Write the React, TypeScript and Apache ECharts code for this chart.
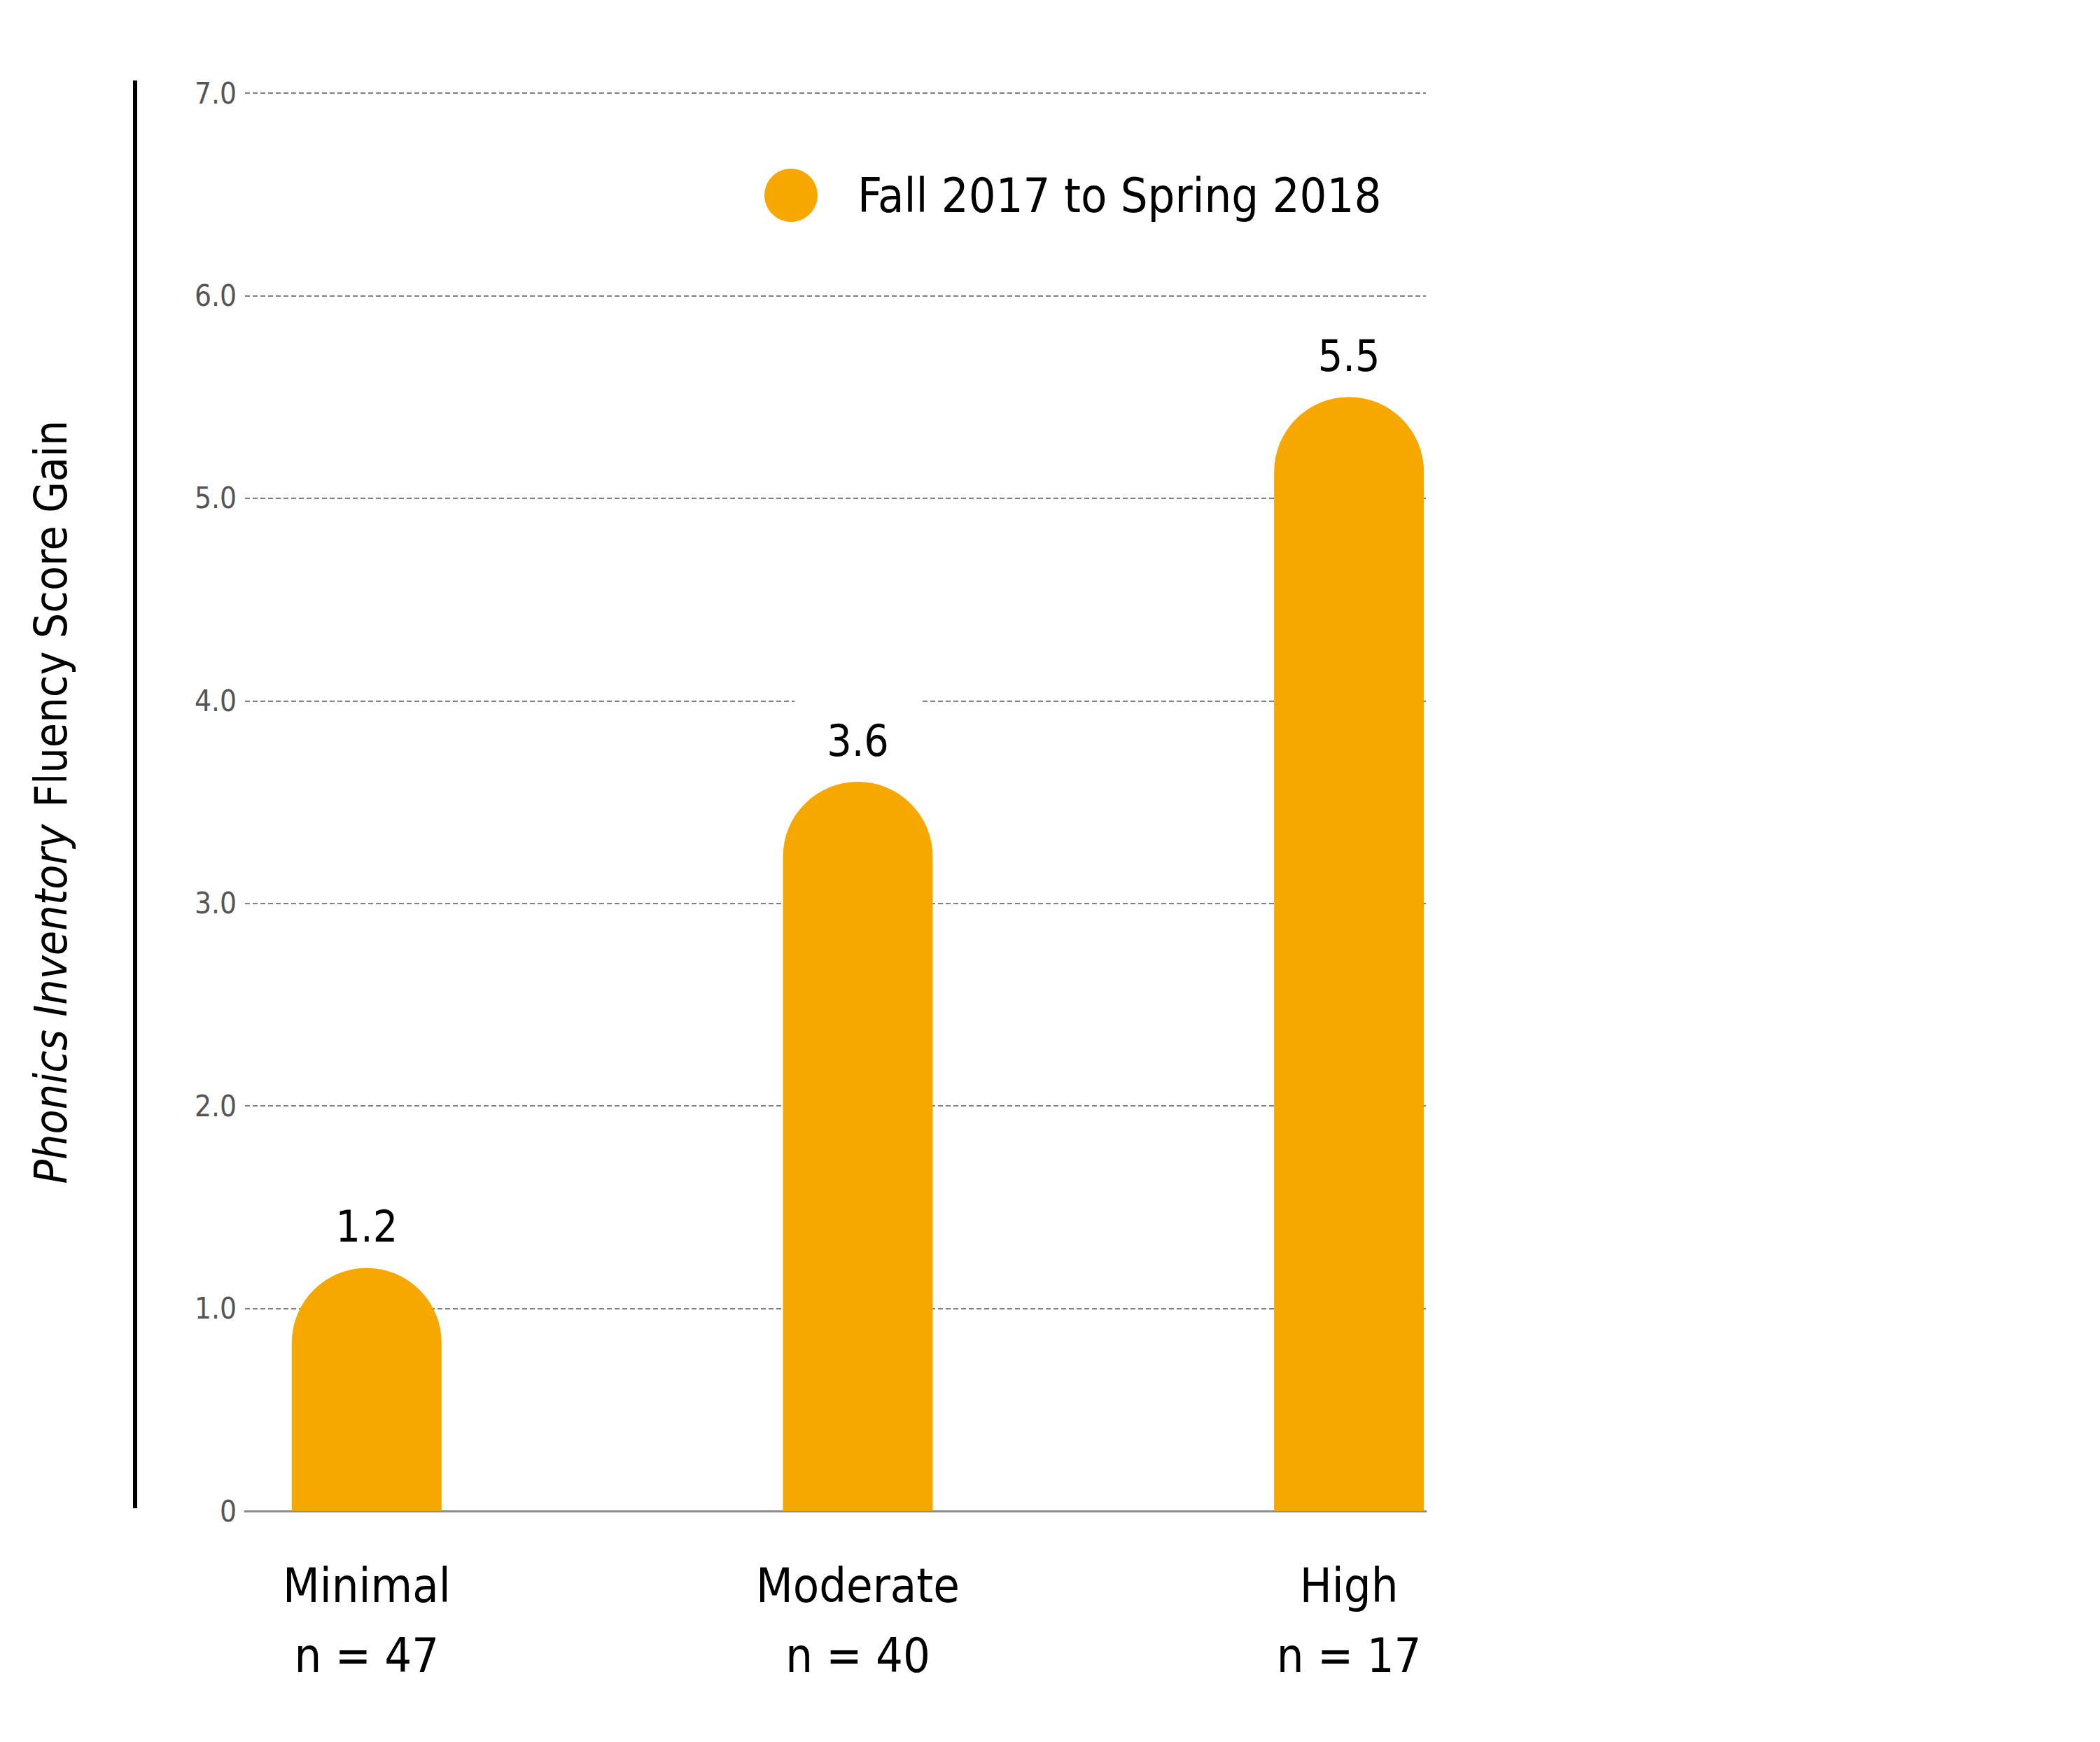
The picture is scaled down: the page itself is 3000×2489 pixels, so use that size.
import React, { useEffect, useRef } from "react";
import * as echarts from "echarts";

const categories = ["Minimal", "Moderate", "High"];
const sampleSizes = ["n = 47", "n = 40", "n = 17"];
const seriesName = "Fall 2017 to Spring 2018";
const values = [1.2, 3.6, 5.5];
const yTicks = [0, 1, 2, 3, 4, 5, 6, 7];

const FONT = "'DejaVu Sans Condensed', 'Liberation Sans Narrow', sans-serif";
const ORANGE = "#F6A800";

export default function App() {
  const ref = useRef<HTMLDivElement>(null);
  useEffect(() => {
    document.body.style.margin = "0";
    const chart = echarts.init(ref.current!, null, { renderer: "svg" });
    const top = 133;
    const height = 2026;
    chart.setOption({
      animation: false,
      backgroundColor: "#ffffff",
      textStyle: { fontFamily: FONT },
      legend: {
        data: [seriesName],
        left: 1087,
        top: 236,
        icon: "circle",
        itemWidth: 76,
        itemHeight: 76,
        textStyle: {
          fontFamily: FONT,
          fontSize: 68,
          color: "#000",
          padding: [0, 0, 0, 52],
        },
      },
      grid: [
        { left: 350, width: 1687, top, height },
        { left: 173, width: 2105, top, height },
      ],
      xAxis: [
        {
          type: "category",
          gridIndex: 0,
          data: categories,
          axisLine: { show: true, lineStyle: { color: "#8c8c8c", width: 3 } },
          axisTick: { show: false },
          axisLabel: { show: false },
          splitLine: { show: false },
        },
        {
          type: "category",
          gridIndex: 1,
          data: categories,
          axisLine: { show: false },
          axisTick: { show: false },
          splitLine: { show: false },
          axisLabel: {
            margin: 56,
            fontFamily: FONT,
            fontSize: 68,
            lineHeight: 100,
            color: "#000",
            formatter: (v: string) => {
              const i = categories.indexOf(v);
              return v + "\n" + sampleSizes[i];
            },
          },
        },
      ],
      yAxis: [
        {
          type: "value",
          gridIndex: 0,
          min: 0,
          max: 7,
          interval: 1,
          name: "{it|Phonics Inventory}{rg|Fluency Score Gain}",
          nameLocation: "middle",
          nameRotate: 90,
          nameGap: 245,
          nameTextStyle: {
            rich: {
              it: {
                fontFamily: FONT,
                fontSize: 64,
                fontStyle: "italic",
                color: "#000",
                padding: [0, 24, 0, 0],
              },
              rg: { fontFamily: FONT, fontSize: 64, color: "#000" },
            },
          },
          axisLine: { show: false },
          axisTick: { show: false },
          axisLabel: {
            margin: 12,
            fontFamily: FONT,
            fontSize: 42,
            color: "#555",
            formatter: (v: number) => (yTicks.includes(v) && v !== 0 ? v.toFixed(1) : String(v)),
          },
          splitLine: {
            show: true,
            lineStyle: { color: "#808080", width: 2, type: [7, 4] },
          },
        },
        {
          type: "value",
          gridIndex: 1,
          min: 0,
          max: 7,
          interval: 1,
          show: false,
          splitLine: { show: false },
        },
      ],
      series: [
        {
          name: seriesName,
          type: "bar",
          xAxisIndex: 1,
          yAxisIndex: 1,
          data: values,
          barWidth: 214,
          itemStyle: { color: ORANGE, borderRadius: [107, 107, 0, 0] },
          label: {
            show: true,
            position: "top",
            distance: 12,
            fontFamily: FONT,
            fontSize: 62,
            lineHeight: 66,
            color: "#000",
            backgroundColor: "#ffffff",
            padding: [34, 46, 14, 46],
            formatter: (p: any) => p.value.toFixed(1),
          },
        },
      ],
      graphic: [
        {
          type: "line",
          shape: { x1: 193, y1: 115, x2: 193, y2: 2155 },
          style: { stroke: "#000", lineWidth: 6 },
        },
      ],
    });
    return () => chart.dispose();
  }, []);
  return <div ref={ref} style={{ width: 3000, height: 2489 }} />;
}
